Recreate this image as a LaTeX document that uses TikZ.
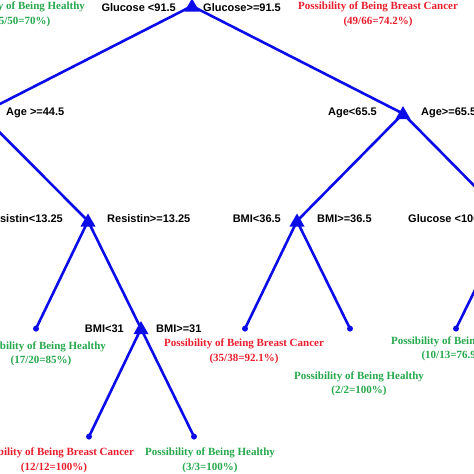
\documentclass[tikz,border=0pt]{standalone}
\usepackage{fontspec}
\setmainfont{Liberation Serif}
\newfontfamily\arialfont{Liberation Sans}
\definecolor{cancerred}{RGB}{232,30,44}
\definecolor{healthgreen}{RGB}{38,168,76}
\definecolor{treeblue}{RGB}{12,12,232}
\begin{document}
\begin{tikzpicture}[x=1pt,y=-1pt,
  edge/.style={draw=treeblue,line width=2.6pt},
  cond/.style={font=\arialfont\bfseries\fontsize{11}{13}\selectfont,inner sep=0pt},
  condl/.style={cond,anchor=east},
  condr/.style={cond,anchor=west},
  leafh/.style={font=\bfseries\fontsize{11}{14.5}\selectfont,text=healthgreen,align=center,inner sep=0pt},
  leafc/.style={font=\bfseries\fontsize{11}{14.5}\selectfont,text=cancerred,align=center,inner sep=0pt}]
\useasboundingbox (0,0) rectangle (474,474);
\clip (0,0) rectangle (474,474);
% tree nodes
\coordinate (R) at (192,6);
\coordinate (L) at (-19,113.6);
\coordinate (Rr) at (403,113.6);
\coordinate (LR) at (88,221);
\coordinate (B36) at (297,221);
\coordinate (G100) at (509,221);
\coordinate (lf1) at (36,328.6);
\coordinate (B31) at (141,328.6);
\coordinate (lf2) at (245,328.6);
\coordinate (lf3) at (350,328.6);
\coordinate (lf6) at (456,328.6);
\coordinate (lf4) at (89,436.6);
\coordinate (lf5) at (194,436.6);
% connectors
\draw[edge] (R) -- (L);
\draw[edge] (R) -- (Rr);
\draw[edge] (L) -- (LR);
\draw[edge] (LR) -- (lf1);
\draw[edge] (LR) -- (B31);
\draw[edge] (B31) -- (lf4);
\draw[edge] (B31) -- (lf5);
\draw[edge] (Rr) -- (B36);
\draw[edge] (Rr) -- (G100);
\draw[edge] (B36) -- (lf2);
\draw[edge] (B36) -- (lf3);
\draw[edge] (G100) -- (lf6);
% markers
\foreach \n in {R,L,Rr,LR,B36,G100,B31}
  \fill[treeblue] (\n) ++(0,-7.5) -- ++(7.5,13) -- ++(-15,0) -- cycle;
\foreach \n in {lf1,lf2,lf3,lf4,lf5,lf6}
  \fill[treeblue] (\n) circle (3);
% split labels
\node[condl] (c1) at (176,8) {Glucose <91.5};
\node[condr] (c2) at (203,8) {Glucose>=91.5};
\node[condr] (c3) at (6,113) {Age >=44.5};
\node[condl] (c4) at (377,113) {Age<65.5};
\node[condr] (c5) at (421,113) {Age>=65.5};
\node[condl] (c6) at (63,219) {Resistin<13.25};
\node[condr] (c7) at (107,219) {Resistin>=13.25};
\node[condl] (c8) at (281,219) {BMI<36.5};
\node[condr] (c9) at (317,219) {BMI>=36.5};
\node[condr] (c10) at (408,219) {Glucose <100};
\node[condl] (c11) at (124,329) {BMI<31};
\node[condr] (c12) at (156,329) {BMI>=31};
% outcome labels
\node[leafh] (t1) at (20,14.5) {Possibility of Being Healthy\\(35/50=70\%)};
\node[leafc] (t2) at (378,14.5) {Possibility of Being Breast Cancer\\(49/66=74.2\%)};
\node[leafh] (t3) at (41,354) {Possibility of Being Healthy\\(17/20=85\%)};
\node[leafc] (t4) at (244,351.5) {Possibility of Being Breast Cancer\\(35/38=92.1\%)};
\node[leafh] (t5) at (359,384) {Possibility of Being Healthy\\(2/2=100\%)};
\node[leafh] (t6) at (456,349) {Possibility of Being Healthy\\(10/13=76.9\%)};
\node[leafc] (t7) at (54,460.5) {Possibility of Being Breast Cancer\\(12/12=100\%)};
\node[leafh] (t8) at (210,460.5) {Possibility of Being Healthy\\(3/3=100\%)};
\end{tikzpicture}
\end{document}
